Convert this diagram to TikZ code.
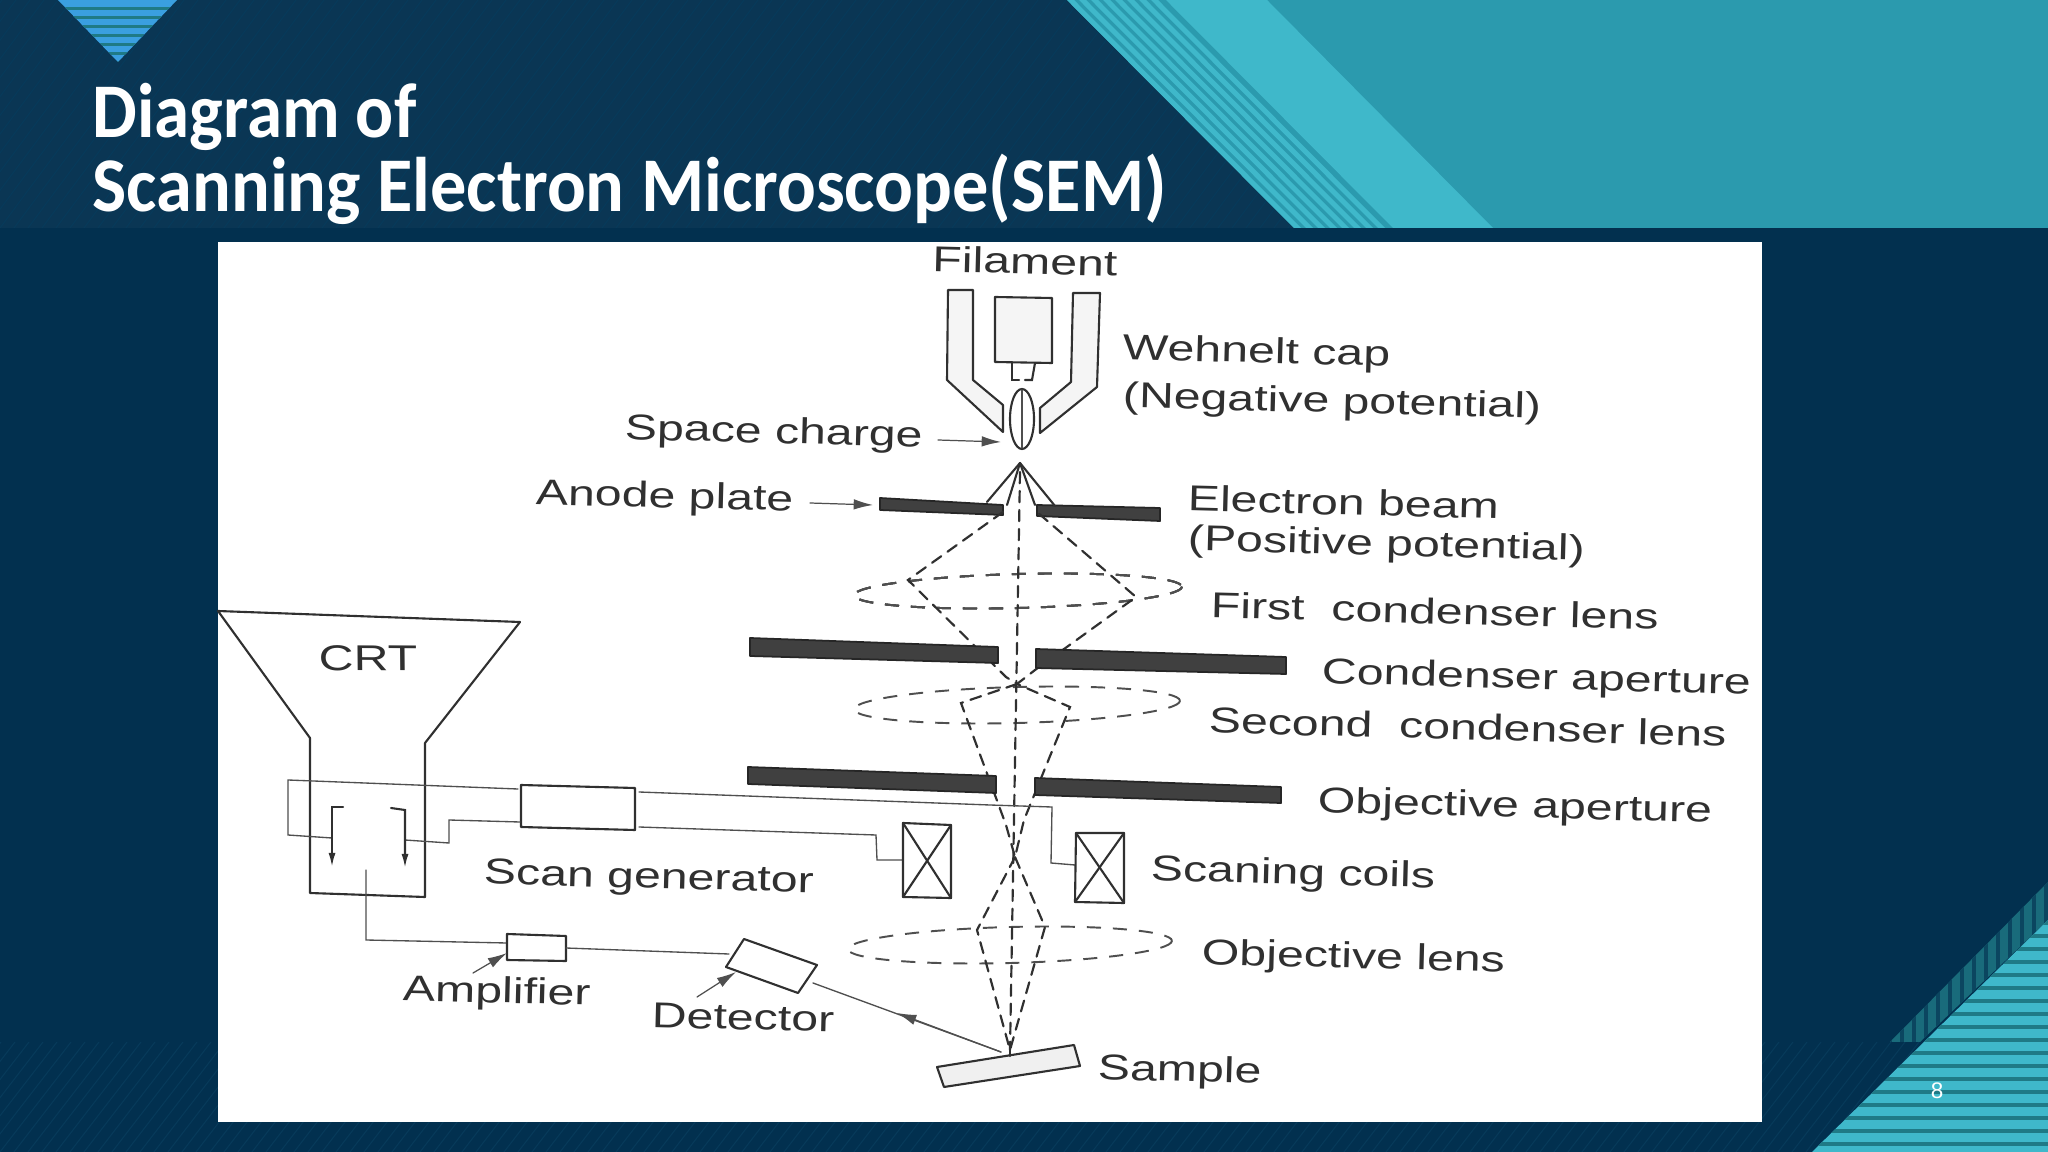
\documentclass[tikz,border=0pt]{standalone}
\usepackage{fontspec, tkz-euclide}
\usetikzlibrary{arrows.meta}
\setmainfont{Liberation Sans}
\newfontfamily\titlefont{Carlito}[BoldFont={Carlito Bold}]
\definecolor{navy}{HTML}{02304F}
\definecolor{navyhatch}{HTML}{073A5A}
\definecolor{tealdark}{HTML}{2B9AAE}
\definecolor{teallight}{HTML}{3FB8CA}
\definecolor{stripedark}{HTML}{1F7A86}
\definecolor{skyblue}{HTML}{3A9FE0}
\definecolor{ink}{HTML}{303030}
\definecolor{plategrey}{HTML}{404040}
\tikzset{
  inkline/.style={line width=.6pt, color=ink},
  wire/.style={line width=.38pt, color=ink!85},
  thinarrow/.style={line width=.35pt, color=ink!85, -{Latex[length=5.5pt,width=3pt]}},
  plate/.style={line width=.5pt, draw=black!85, fill=plategrey},
  beam/.style={line width=.62pt, color=ink, dash pattern=on 3.2pt off 2.2pt},
  lens/.style={line width=.55pt, color=ink!85, dash pattern=on 4pt off 3.4pt},
  lbl/.style={inner sep=0pt, text=ink, font=\fontsize{10.2}{12}\selectfont, rotate=-1.5, xscale=1.345},
}
\begin{document}
\begin{tikzpicture}[x=0.01cm, y=-0.01cm]
    \useasboundingbox (0,0) rectangle (2048,1152);
    % slide background
    \fill[navy] (0,0) rectangle (2048,1152);
    \begin{scope}
        \clip (0,0) rectangle (1300,228);
        \fill[navy!97!white] (0,0) rectangle (1300,228);
        \foreach \i in {-15,...,100}
            \draw[navyhatch, line width=.3pt] (\i*14,228) -- ++(170,-228);
    \end{scope}
    \begin{scope}
        \clip (0,1042) rectangle (2048,1152);
        \foreach \i in {-15,...,150}
            \draw[navyhatch, line width=.3pt] (\i*14,1152) -- ++(85,-110);
    \end{scope}
    % header bands
    \fill[tealdark] (1067,0) -- (2048,0) -- (2048,228) -- (1294,228) -- cycle;
    \fill[teallight] (1166,0) -- (1267,0) -- (1493,228) -- (1393,228) -- cycle;
    \foreach \d in {0,12,...,84}
        \fill[teallight] (1067+\d,0) -- (1074+\d,0) -- (1301+\d,228) -- (1294+\d,228) -- cycle;
    % top left triangle
    \begin{scope}
        \clip (58,0) -- (177,0) -- (118,62) -- cycle;
        \fill[skyblue] (0,0) rectangle (200,70);
        \foreach \y in {7,16,...,61}
            \fill[stripedark] (0,\y) rectangle (200,\y+3);
    \end{scope}
    % bottom right corner
    \begin{scope}
        \clip (1890,1042) -- (2048,882) -- (2048,920) -- (1920,1042) -- cycle;
        \fill[stripedark!80!navy] (1880,880) rectangle (2048,1042);
        \foreach \i in {0,...,14}
            \fill[navy!70!stripedark] (1888+\i*12,880) rectangle (1892+\i*12,1042);
    \end{scope}
    \begin{scope}
        \clip (1812,1152) -- (2048,920) -- (2048,1152) -- cycle;
        \fill[teallight] (1800,910) rectangle (2048,1152);
        \foreach \i in {0,...,18}
            \fill[stripedark] (1800,921+\i*13) rectangle (2048,925+\i*13);
    \end{scope}
    \node[white, inner sep=0pt, font=\fontsize{6.4}{8}\selectfont] (pageNo) at (1937,1091) {8};
    % title
    \node[anchor=base west, inner sep=0pt, text=white, xscale=.917,
          font=\titlefont\bfseries\fontsize{22}{26}\selectfont] (titleA) at (92,138) {Diagram of};
    \node[anchor=base west, inner sep=0pt, text=white, xscale=.935,
          font=\titlefont\bfseries\fontsize{22}{26}\selectfont] (titleB) at (92,212) {Scanning Electron Microscope(SEM)};
    % the scanned figure
    \fill[white] (218,242) rectangle (1762,1122);
    \tkzDefPoints{948/290/wla, 947/380/wlb, 1003/432/wlc, 1003/405/wld, 973/380/wle, 973/290/wlf,
                  1100/293/wra, 1097/387/wrb, 1040/433/wrc, 1040/408/wrd, 1071/382/wre, 1073/293/wrf,
                  995/297/fla, 1052/298/flb, 1052/363/flc, 995/362/fld,
                  1012/363/lga, 1012/380/lgb, 1019/380/lgc, 1035/363/lha, 1032/380/lhb, 1025/380/lhc,
                  1022/390/ecT, 1022/448/ecB, 938/440/spS, 1001/442/spE, 810/503/anS, 873/505/anE,
                  880/498/apa, 1003/505/apb, 1003/515/apc, 880/510/apd,
                  1037/505/aqa, 1160/508/aqb, 1160/521/aqc, 1037/516/aqd,
                  1020/463/apex, 987/502/cna, 1007/505/cnb, 1035/505/cnc, 1055/506/cnd}
    \tkzDefPoints{1003/512/bla, 908/580/blb, 1006/677/blc, 1017/684/xa,
                  1037/512/bra, 1136/597/brb, 1035/670/brc,
                  961/703/bld, 1006/825/ble, 1015/857/xb, 1070/707/brd, 1024/820/bre,
                  977/930/blf, 1010/1050/xc, 1045/927/brf, 1020/472/axT,
                  750/638/cpa, 998/647/cpb, 998/663/cpc, 750/656/cpd,
                  1036/649/cqa, 1286/657/cqb, 1286/674/cqc, 1036/668/cqd,
                  748/767/opa, 996/776/opb, 996/793/opc, 748/784/opd,
                  1035/778/oqa, 1281/787/oqb, 1281/803/oqc, 1035/795/oqd}
    \tkzDefPoints{218/611/cra, 520/622/crb, 425/743/crc, 425/897/crd, 310/893/cre, 310/738/crf,
                  521/785/sga, 635/788/sgb, 635/830/sgc, 521/827/sgd,
                  518/789/wta, 288/780/wtb, 288/835/wtc, 332/838/wtd,
                  343/807/dla, 332/807/dlb, 332/867/dlc, 391/808/dra, 405/810/drb, 405/868/drc,
                  405/840/wpa, 449/843/wpb, 449/820/wpc, 520/822/wpd,
                  639/792/cwa, 990/805/cwb, 1052/807/cwc, 1051/863/cwd, 1075/865/cwe,
                  639/827/dwa, 876/835/dwb, 877/860/dwc, 903/860/dwd,
                  903/823/lca, 951/825/lcb, 951/898/lcc, 903/897/lcd,
                  1076/833/rca, 1124/833/rcb, 1124/903/rcc, 1075/902/rcd}
    \tkzDefPoints{366/870/awa, 366/940/awb, 507/943/awc,
                  507/934/ama, 566/936/amb, 566/961/amc, 507/960/amd,
                  566/948/awd, 729/954/awe,
                  744/939/dta, 817/965/dtb, 798/993/dtc, 726/967/dtd,
                  473/973/amS, 507/953/amE, 697/997/dtS, 736/972/dtE,
                  1001/1052/smO, 813/983/smD, 897/1013/smM,
                  937/1067/saa, 1074/1045/sab, 1080/1066/sac, 944/1087/sad, 1010/1056/smT}
    % gun
    \tkzDrawPolygon[inkline,fill=black!4](wla,wlb,wlc,wld,wle,wlf)
    \tkzDrawPolygon[inkline,fill=black!4](wra,wrb,wrc,wrd,wre,wrf)
    \tkzDrawPolygon[inkline,fill=black!4](fla,flb,flc,fld)
    \tkzDrawPolySeg[inkline](lga,lgb,lgc)
    \tkzDrawPolySeg[inkline](lha,lhb,lhc)
    \draw[inkline] (1022,419) ellipse (12 and 30);
    \tkzDrawSegment[wire](ecT,ecB)
    \tkzDrawSegment[thinarrow](spS,spE)
    \tkzDrawSegment[thinarrow](anS,anE)
    \tkzDrawPolygon[plate](apa,apb,apc,apd)
    \tkzDrawPolygon[plate](aqa,aqb,aqc,aqd)
    \foreach \p in {cna,cnb,cnc,cnd}
        \tkzDrawSegment[inkline](apex,\p)
    % lenses
    \draw[lens, rotate around={1.5:(1018,591)}] (1018,591) ellipse (164 and 17);
    \draw[lens, rotate around={1.5:(1017,705)}] (1017,705) ellipse (163 and 18);
    \draw[lens, rotate around={1.5:(1010,945)}] (1010,945) ellipse (162 and 18);
    % beam
    \tkzDrawSegment[beam](axT,xc)
    \tkzDrawPolySeg[beam](bla,blb,blc,xa,brc,brb,bra)
    \tkzDrawPolySeg[beam](xa,bld,ble,xb,bre,brd,xa)
    \tkzDrawPolySeg[beam](xb,blf,xc,brf,xb)
    % apertures
    \tkzDrawPolygon[plate](cpa,cpb,cpc,cpd)
    \tkzDrawPolygon[plate](cqa,cqb,cqc,cqd)
    \tkzDrawPolygon[plate](opa,opb,opc,opd)
    \tkzDrawPolygon[plate](oqa,oqb,oqc,oqd)
    % display and scan electronics
    \tkzDrawPolygon[inkline](cra,crb,crc,crd,cre,crf)
    \tkzDrawPolygon[inkline](sga,sgb,sgc,sgd)
    \tkzDrawPolySeg[wire](wta,wtb,wtc,wtd)
    \tkzDrawPolySeg[wire](wpa,wpb,wpc,wpd)
    \tkzDrawPolySeg[inkline,-{Latex[length=4pt,width=2pt]}](dla,dlb,dlc)
    \tkzDrawPolySeg[inkline,-{Latex[length=4pt,width=2pt]}](dra,drb,drc)
    \tkzDrawPolySeg[wire](cwa,cwb,cwc,cwd,cwe)
    \tkzDrawPolySeg[wire](dwa,dwb,dwc,dwd)
    \foreach \a/\b/\c/\d in {lca/lcb/lcc/lcd, rca/rcb/rcc/rcd}{
        \tkzDrawPolygon[inkline](\a,\b,\c,\d)
        \tkzDrawSegment[inkline](\a,\c)
        \tkzDrawSegment[inkline](\b,\d)
    }
    % detection chain
    \tkzDrawPolySeg[wire](awa,awb,awc)
    \tkzDrawPolygon[inkline](ama,amb,amc,amd)
    \tkzDrawSegment[wire](awd,awe)
    \tkzDrawPolygon[inkline](dta,dtb,dtc,dtd)
    \tkzDrawSegment[thinarrow](amS,amE)
    \tkzDrawSegment[thinarrow](dtS,dtE)
    \tkzDrawSegment[wire](smO,smD)
    \tkzDrawSegment[thinarrow](smO,smM)
    \tkzDrawPolygon[inkline,fill=black!6](saa,sab,sac,sad)
    \tkzDrawSegment[inkline](xc,smT)
    % labels
    \node[lbl] (lblFilament) at (1025,261) {Filament};
    \node[lbl, anchor=west] (lblWehnelt) at (1122,350) {Wehnelt cap};
    \node[lbl, anchor=west] (lblNegative) at (1122,398) {(Negative potential)};
    \node[lbl, anchor=west] (lblSpace) at (624,430) {Space charge};
    \node[lbl, anchor=west] (lblAnode) at (535,495) {Anode plate};
    \node[lbl, anchor=west] (lblBeam) at (1187,498) {Electron beam};
    \node[lbl, anchor=west] (lblPositive) at (1187,541) {(Positive potential)};
    \node[lbl, anchor=west] (lblFirst) at (1210,605) {First\ \ condenser lens};
    \node[lbl, anchor=west] (lblCondenser) at (1321,674) {Condenser aperture};
    \node[lbl, anchor=west] (lblSecond) at (1208,720) {Second\ \ condenser lens};
    \node[lbl, anchor=west] (lblObjAp) at (1317,803) {Objective aperture};
    \node[lbl, anchor=west] (lblCoils) at (1150,871) {Scaning coils};
    \node[lbl, anchor=west] (lblScan) at (483,875) {Scan generator};
    \node[lbl, anchor=west] (lblObjLens) at (1201,955) {Objective lens};
    \node[lbl, anchor=west] (lblAmp) at (402,991) {Amplifier};
    \node[lbl, anchor=west] (lblDet) at (651,1015) {Detector};
    \node[lbl, anchor=west] (lblSample) at (1097,1070) {Sample};
    \node[lbl, rotate=1.5] (lblCRT) at (368,658) {CRT};
\end{tikzpicture}
\end{document}
